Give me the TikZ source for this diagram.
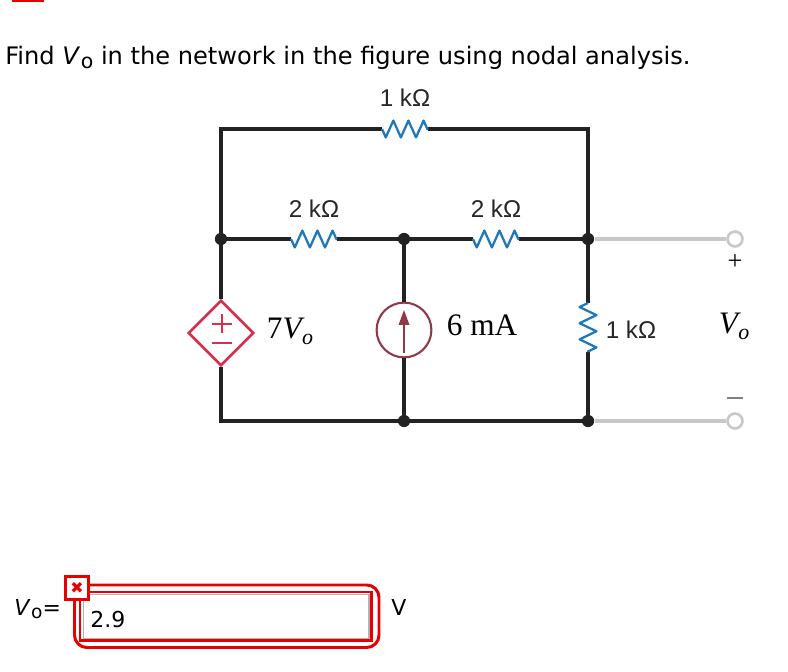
\documentclass[tikz,border=0pt]{standalone}
\usepackage{fontspec}
\setmainfont{DejaVu Sans}
\newfontfamily\figsans{Liberation Sans}
\newfontfamily\figserif{Liberation Serif}
\usetikzlibrary{decorations.pathmorphing,shapes.geometric}
\definecolor{boxred}{HTML}{E60000}
\definecolor{srcred}{HTML}{D8304A}
\definecolor{srcdark}{HTML}{8E3A48}
\definecolor{resblue}{HTML}{1F78B8}
\definecolor{wireblack}{HTML}{222222}
\definecolor{lightwire}{HTML}{C8C8C8}
\newcommand{\Vosub}{\textit{V}\kern0.3pt\raisebox{-0.3ex}{\scalebox{0.85}{o}}}
\newcommand{\Vofig}{\textit{V}\kern-1.5pt\raisebox{-0.4ex}{\fontsize{12.5}{13}\selectfont\textit{o}}}

\begin{document}
\begin{tikzpicture}[x=0.02cm,y=-0.02cm]

\tikzset{
    dot/.style={circle,inner sep=0pt,minimum size=7pt,fill=wireblack},
    open/.style={circle,inner sep=0pt,minimum size=8.5pt,draw=lightwire,line width=1.5pt,fill=white},
    wire/.style={draw=wireblack,line width=2.3pt},
    outwire/.style={draw=lightwire,line width=2.3pt},
    res/.style={draw=resblue,line width=1.3pt,line join=round,decorate,decoration={zigzag,mirror,segment length=#1,amplitude=4.8pt}},
    res/.default=8.6pt,
    reslabel/.style={font=\figsans\fontsize{13.8}{15}\selectfont,text=black!85,inner sep=0pt},
    srclabel/.style={font=\figserif\fontsize{17.8}{19}\selectfont,inner sep=0pt}
}

\useasboundingbox (0,0) rectangle (788,672);

\node[anchor=base west,inner sep=0pt,font=\fontsize{13.72}{16}\selectfont] (title) at (5,65) {Find \Vosub{} in the network in the figure using nodal analysis.};

% circuit nodes
\coordinate (TL) at (221,129);
\coordinate (TR) at (588,129);
\coordinate (BL) at (221,421);
\node[dot] (ML) at (221,239) {};
\node[dot] (MC) at (404,239) {};
\node[dot] (MR) at (588,239) {};
\node[dot] (BC) at (404,421) {};
\node[dot] (BR) at (588,421) {};

\coordinate (R1a) at (382,129);
\coordinate (R1b) at (428,129);
\coordinate (R2a) at (291,239);
\coordinate (R2b) at (337,239);
\coordinate (R3a) at (473,239);
\coordinate (R3b) at (519,239);
\coordinate (R4a) at (588,303);
\coordinate (R4b) at (588,352);

% sources
\node[diamond,aspect=1,draw=srcred,fill=white,line width=1.5pt,inner sep=0pt,minimum size=66*0.567pt] (VS) at (221,333) {};
\node[circle,draw=srcdark,fill=white,line width=1.2pt,inner sep=0pt,minimum size=55*0.567pt] (IS) at (404,330) {};

\draw[wire] (R1a) -- (TL) -- (BL |- VS.north);
\draw[wire] (R1b) -- (TR) -- (R4a);
\draw[wire] (VS.south) -- (BL) -- (BC.center) -- (BR.center) -- (R4b);
\draw[wire] (ML.center) -- (R2a);
\draw[wire] (R2b) -- (MC.center) -- (R3a);
\draw[wire] (R3b) -- (MR.center);
\draw[wire] (MC.center) -- (IS.north);
\draw[wire] (IS.south) -- (BC.center);

\draw[res] (R1a) -- (R1b);
\draw[res] (R2a) -- (R2b);
\draw[res] (R3a) -- (R3b);
\draw[res=9.2pt] (R4a) -- (R4b);

% output terminals
\node[open] (OT) at (735,239) {};
\node[open] (OB) at (735,421) {};
\draw[outwire] (MR) -- (OT);
\draw[outwire] (BR) -- (OB);

% inside the sources
\draw[srcred,line width=1pt] (212,324) -- (232,324) (222,314) -- (222,333);
\draw[srcred,line width=1pt] (212,343) -- (232,343);
\coordinate (ISa) at (404,353);
\coordinate (ISb) at (404,320);
\draw[srcdark,line width=1.1pt] (ISa) -- (ISb);
\fill[srcdark] (404,310) -- (409.5,325) -- (398.5,325) -- cycle;

% labels
\node[reslabel] (L1) at (405,98) {1 kΩ};
\node[reslabel] (L2) at (314,209) {2 kΩ};
\node[reslabel] (L3) at (496,209) {2 kΩ};
\node[reslabel] (L4) at (631,330) {1 kΩ};
\node[srclabel] (L5) at (290,331) {7\Vofig};
\node[srclabel] (L6) at (482,325) {6 mA};
\node[srclabel] (L7) at (734,326) {\Vofig};
\node[inner sep=0pt,font=\figserif\fontsize{15}{15}\selectfont] (OP) at (735,262) {+};
\draw[black!50,line width=0.7pt] (727,398) -- (743,398);

% answer box
\draw[boxred,line width=1.7pt,fill=white,rounded corners=7pt] (74.5,585) rectangle (379,647.5);
\draw[boxred,line width=1.7pt,fill=white] (80,592) rectangle (371.5,640.5);
\draw[black!30,line width=0.8pt] (83.5,594.5) rectangle (369,638.5);
\node[anchor=base west,inner sep=0pt,font=\fontsize{12.5}{15}\selectfont] (ans) at (90,627) {2.9};
\node[anchor=base west,inner sep=0pt,font=\fontsize{12.5}{15}\selectfont] (unit) at (391,615) {V};
\node[anchor=base west,inner sep=0pt,font=\fontsize{12.5}{15}\selectfont] (lhs) at (14,615) {\Vosub=};
\node[draw=boxred,fill=white,line width=1.7pt,minimum size=13pt,inner sep=0pt,text=boxred,font=\fontsize{9}{9}\selectfont] (xbox) at (77,588) {✖};
\fill[boxred] (12,0) rectangle (44,2.5);

\end{tikzpicture}
\end{document}
